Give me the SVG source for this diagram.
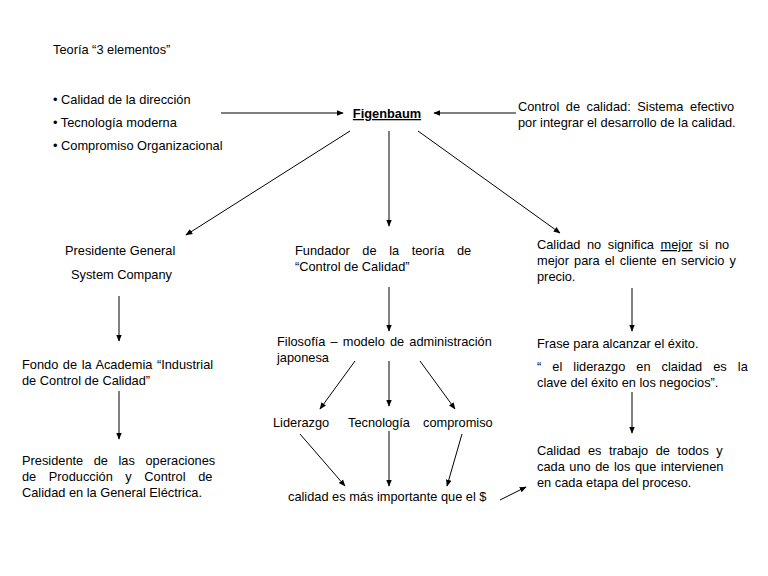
<svg xmlns="http://www.w3.org/2000/svg" width="768" height="576" viewBox="0 0 768 576">
<defs>
<marker id="ah" viewBox="0 0 10 10" refX="9" refY="5" markerWidth="7" markerHeight="7" orient="auto" markerUnits="userSpaceOnUse"><path d="M0,1 L10,5 L0,9 z" fill="#000"/></marker>
<style>
text{font-family:"Liberation Sans",Arial,sans-serif;font-size:12.8px;fill:#000}
.c line{stroke:#000;stroke-width:1;marker-end:url(#ah)}
</style>
</defs>
<rect width="768" height="576" fill="#fff"/>
<g id="teoria"><text x="53" y="54">Teoría “3 elementos”</text></g>
<g id="elementos">
<text x="53" y="104">• Calidad de la dirección</text>
<text x="53" y="127">• Tecnología moderna</text>
<text x="53" y="150">• Compromiso Organizacional</text>
</g>
<g id="figenbaum"><text x="387" y="118" text-anchor="middle" font-weight="bold" text-decoration="underline">Figenbaum</text></g>
<g id="control"><text x="518" y="111" word-spacing="3">Control de calidad: Sistema efectivo</text><text x="518" y="127">por integrar el desarrollo de la calidad.</text></g>
<g id="presidente"><text x="65" y="255">Presidente General</text><text x="71" y="279">System Company</text></g>
<g id="fundador"><text x="295" y="255" word-spacing="9">Fundador de la teoría de</text><text x="295" y="271">“Control de Calidad”</text></g>
<g id="nosignifica"><text x="537" y="249" word-spacing="3">Calidad no significa <tspan text-decoration="underline">mejor</tspan>  si no</text><text x="537" y="265" word-spacing="1.5">mejor para el cliente en servicio y</text><text x="537" y="281">precio.</text></g>
<g id="fondo"><text x="22" y="369" word-spacing="1">Fondo de la Academia “Industrial</text><text x="22" y="385">de Control de Calidad”</text></g>
<g id="presidente2"><text x="22" y="465" word-spacing="7">Presidente de las operaciones</text><text x="22" y="481" word-spacing="9">de Producción y Control de</text><text x="22" y="497">Calidad en la General Eléctrica.</text></g>
<g id="filosofia"><text x="277" y="346" word-spacing="1.6">Filosofía – modelo de administración</text><text x="277" y="362">japonesa</text></g>
<g id="liderazgo"><text x="273" y="427">Liderazgo</text></g>
<g id="tecnologia"><text x="348" y="427">Tecnología</text></g>
<g id="compromiso"><text x="423" y="427">compromiso</text></g>
<g id="calidadmas"><text x="288" y="501">calidad es más importante que el $</text></g>
<g id="frase"><text x="537" y="348">Frase para alcanzar el éxito.</text><text x="537" y="371" word-spacing="7.5">“ el liderazgo en claidad es la</text><text x="537" y="387">clave del éxito en los negocios”.</text></g>
<g id="trabajo"><text x="537" y="455" word-spacing="4">Calidad es trabajo de todos y</text><text x="537" y="471" word-spacing="1">cada uno de los que intervienen</text><text x="537" y="487">en cada etapa del proceso.</text></g>
<g id="connectors" class="c">
<line x1="221" y1="113" x2="343" y2="113"/>
<line x1="516" y1="113" x2="434" y2="113"/>
<line x1="350" y1="131" x2="186" y2="235"/>
<line x1="389" y1="131" x2="389" y2="226"/>
<line x1="418" y1="131" x2="560" y2="233"/>
<line x1="119" y1="296" x2="119" y2="341"/>
<line x1="119" y1="391" x2="119" y2="439"/>
<line x1="389" y1="287" x2="389" y2="331"/>
<line x1="355" y1="361" x2="320" y2="409"/>
<line x1="389" y1="361" x2="389" y2="406"/>
<line x1="420" y1="361" x2="455" y2="409"/>
<line x1="300" y1="434" x2="345" y2="486"/>
<line x1="389" y1="431" x2="389" y2="486"/>
<line x1="462" y1="434" x2="447" y2="486"/>
<line x1="500" y1="500" x2="526" y2="487"/>
<line x1="632" y1="288" x2="632" y2="331"/>
<line x1="632" y1="392" x2="632" y2="433"/>
</g>
</svg>
